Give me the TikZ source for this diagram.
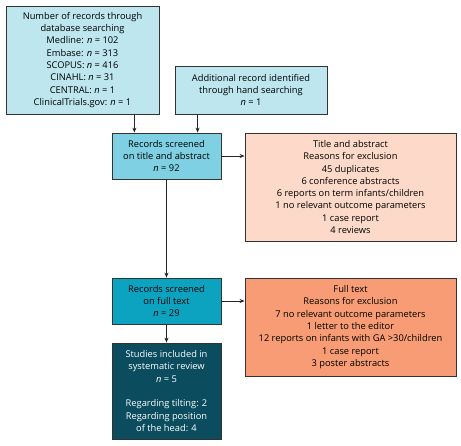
\documentclass[tikz,border=0pt]{standalone}
\usepackage{fontspec}
\setmainfont{Open Sans}
\usetikzlibrary{arrows.meta}
\definecolor{dblue}{HTML}{BDE6EE}
\definecolor{tiblue}{HTML}{7ED0E2}
\definecolor{ftblue}{HTML}{0BA3BF}
\definecolor{inblue}{HTML}{0B4D5E}
\definecolor{expeach}{HTML}{FCD9C8}
\definecolor{exorange}{HTML}{F79C74}
\tikzset{
  flowbox/.style={draw=black!80, line width=0.8pt, align=center, inner sep=2pt,
    font=\fontsize{9.3}{12.3}\selectfont},
  flowarrow/.style={-{Stealth[length=5pt,width=4pt]}, line width=0.8pt, black!85}
}
\begin{document}
\begin{tikzpicture}[x=1pt, y=-1pt]
        \useasboundingbox[fill=white] (0,0) rectangle (461,445);
        \node [flowbox, fill=dblue, minimum width=153pt, minimum height=108pt] (db) at (82.5,60)
          {Number of records through\\database searching\\Medline: \emph{n} = 102\\Embase: \emph{n} = 313\\SCOPUS: \emph{n} = 416\\CINAHL: \emph{n} = 31\\CENTRAL: \emph{n} = 1\\ClinicalTrials.gov: \emph{n} = 1};
        \node [flowbox, fill=dblue, minimum width=152pt, minimum height=48pt] (hand) at (251,90)
          {Additional record identified\\through hand searching\\\emph{n} = 1};
        \node [flowbox, fill=tiblue, minimum width=109pt, minimum height=46pt] (tiab) at (166.5,156)
          {Records screened\\on title and abstract\\\emph{n} = 92};
        \node [flowbox, fill=expeach, minimum width=211pt, minimum height=108pt] (excla) at (350.5,187)
          {Title and abstract\\Reasons for exclusion\\45 duplicates\\6 conference abstracts\\6 reports on term infants/children\\1 no relevant outcome parameters\\1 case report\\4 reviews};
        \node [flowbox, fill=ftblue, minimum width=109pt, minimum height=46pt] (full) at (166.5,301)
          {Records screened\\on full text\\\emph{n} = 29};
        \node [flowbox, fill=exorange, minimum width=211pt, minimum height=98pt] (exclb) at (350.5,327)
          {Full text\\Reasons for exclusion\\7 no relevant outcome parameters\\1 letter to the editor\\12 reports on infants with GA >30/children\\1 case report\\3 poster abstracts};
        \node [flowbox, fill=inblue, text=white, minimum width=109pt, minimum height=96pt] (incl) at (166.5,391)
          {Studies included in\\systematic review\\\emph{n} = 5\\[12.3pt]Regarding tilting: 2\\Regarding position\\of the head: 4};
        \draw [flowarrow] ([xshift=-25pt]db.south east) -- ([xshift=-25pt]db.south east |- tiab.north);
        \draw [flowarrow] ([xshift=23pt]hand.south west) -- ([xshift=23pt]hand.south west |- tiab.north);
        \draw [flowarrow] (tiab.east) -- (tiab.east -| excla.west);
        \draw [flowarrow] (tiab) -- (full);
        \draw [flowarrow] (full.east) -- (full.east -| exclb.west);
        \draw [flowarrow] (full) -- (incl);
      \end{tikzpicture}
\end{document}
